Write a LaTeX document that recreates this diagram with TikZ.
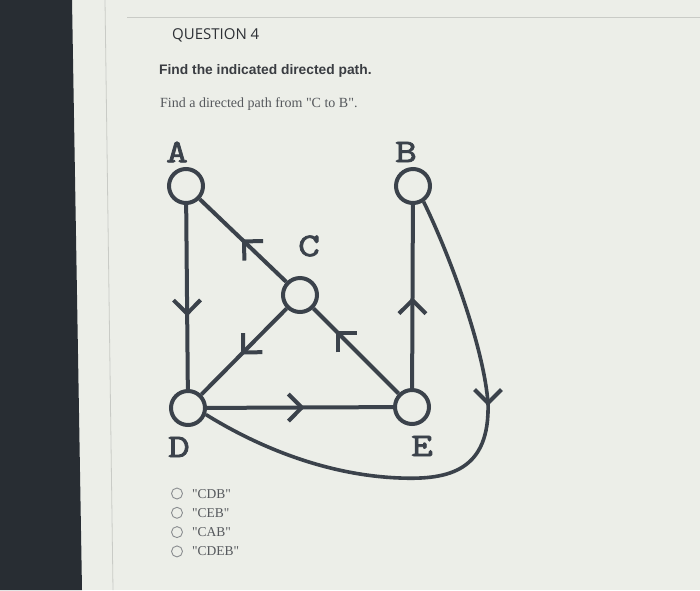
\documentclass[tikz,border=0pt]{standalone}
\usepackage{fontspec}
\setmainfont{Liberation Serif}[Ligatures=TeXOff]
\newfontfamily\osans{Open Sans}
\newfontfamily\lsans{Liberation Sans}
\newfontfamily\cour{lmmono10-regular.otf}[FakeBold=2.4, FakeStretch=1.25]
\usetikzlibrary{decorations.markings}
\definecolor{bg}{HTML}{ECEEE8}
\definecolor{darkbar}{HTML}{282D33}
\definecolor{ink}{HTML}{3B424B}
\definecolor{qcol}{HTML}{2E3136}
\definecolor{boldcol}{HTML}{3A3D42}
\definecolor{serifcol}{HTML}{55585C}
\definecolor{rulecol}{HTML}{C9CBC6}
\definecolor{radiocol}{HTML}{8A8D90}
\tikzset{
  vtx/.style={circle, draw=ink, line width=4pt, minimum size=34pt, inner sep=0pt},
  lbl/.style={font=\cour\fontsize{33}{33}\selectfont, text=ink, inner sep=0pt},
  edge/.style={draw=ink, line width=4pt},
  chev/.style={draw=ink, line width=4pt, line join=miter},
  midarrow/.style={postaction={decorate}, decoration={markings,
    mark=at position #1 with {\draw[chev] (-13.5pt,13.5pt) -- (0pt,0pt) -- (-13.5pt,-13.5pt);}}},
  opt/.style={anchor=base west, font=\fontsize{13.5}{16}\selectfont, text=serifcol, inner sep=0pt},
  radio/.style={circle, draw=radiocol, line width=0.9pt, minimum size=11pt, inner sep=0pt}
}
\begin{document}
\begin{tikzpicture}[x=1pt,y=-1pt]
\useasboundingbox (0,0) rectangle (700,590);
\fill[bg] (0,0) rectangle (700,590);
\fill[darkbar] (0,0) -- (72,0) -- (82,590) -- (0,590) -- cycle;
\draw[rulecol, line width=0.8pt] (105,0) -- (113,590);
\draw[rulecol, line width=0.8pt] (127,17) -- (700,17);

% texts
\node[anchor=base west, inner sep=0pt, font=\osans\fontsize{15}{18}\selectfont, text=qcol] (q) at (172,39.5) {QUESTION 4};
\node[anchor=base west, inner sep=0pt, font=\lsans\bfseries\fontsize{13.8}{16}\selectfont, text=boldcol] (t1) at (159,74) {Find the indicated directed path.};
\node[anchor=base west, inner sep=0pt, font=\fontsize{14}{16}\selectfont, text=serifcol] (t2) at (160,107) {Find a directed path from "C to B".};

% graph
\node[vtx] (A) at (186,186) {};
\node[vtx] (B) at (413,186) {};
\node[vtx] (C) at (300,295) {};
\node[vtx] (D) at (188,408) {};
\node[vtx] (E) at (412,407) {};
\node[lbl] (la) at (177,152) {A};
\node[lbl] (lb) at (406,152) {B};
\node[lbl] (lc) at (309,246) {C};
\node[lbl] (ld) at (179,447) {D};
\node[lbl] (le) at (422,446) {E};

\draw[edge, midarrow=0.59] (A) -- (D);
\draw[edge, midarrow=0.49] (C) -- (A);
\draw[edge, midarrow=0.51] (C) -- (D);
\draw[edge, midarrow=0.71] (E) -- (C);
\draw[edge, midarrow=0.51] (D) -- (E);
\draw[edge, midarrow=0.48] (E) -- (B);

\coordinate (cv) at (488,403);
\draw[edge, line width=3.6pt] (B.-56) .. controls (452,260) and (484,350) .. (cv)
  .. controls (490,470) and (450,480) .. (400,478)
  .. controls (320,475) and (250,442) .. (D.-20);
\draw[chev] ([shift={(-13.5,-13.5)}]cv) -- (cv) -- ([shift={(13.5,-13.5)}]cv);

% options
\node[radio] (r1) at (177,493.5) {};
\node[radio] (r2) at (177,512.8) {};
\node[radio] (r3) at (177,532.1) {};
\node[radio] (r4) at (177,551.4) {};
\node[opt] (o1) at (192,498) {"CDB"};
\node[opt] (o2) at (192,517.3) {"CEB"};
\node[opt] (o3) at (192,536.6) {"CAB"};
\node[opt] (o4) at (192,555.9) {"CDEB"};
\end{tikzpicture}
\end{document}
